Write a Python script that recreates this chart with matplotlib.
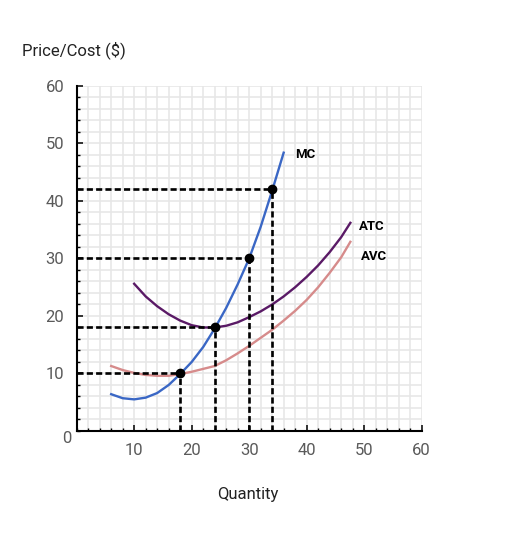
import matplotlib
matplotlib.use("Agg")
import matplotlib.pyplot as plt
from matplotlib.ticker import MultipleLocator

plt.rcParams['font.family'] = ['Roboto', 'DejaVu Sans']
plt.rcParams['lines.scale_dashes'] = False

# values
mc_q = [6, 8, 10, 12, 14, 16, 18, 20, 22, 24, 26, 28, 30, 32, 34, 36]
mc_cost = [6.4, 5.7, 5.5, 5.8, 6.6, 8.0, 9.9, 12.0, 14.6, 17.8, 21.4, 25.5, 30.0, 35.5, 41.8, 48.4]

atc_q = [10, 12, 14, 16, 18, 20, 22, 24, 26, 28, 30, 32, 34, 36, 38, 40, 42, 44, 46, 47.6]
atc_cost = [25.6, 23.4, 21.7, 20.3, 19.2, 18.4, 18.0, 18.0, 18.3, 18.9, 19.8, 20.8, 22.0, 23.4,
            25.0, 26.8, 28.8, 31.1, 33.7, 36.2]

avc_q = [6, 8, 10, 12, 14, 16, 18, 20, 22, 24, 26, 28, 30, 32, 34, 36, 38, 40, 42, 44, 46, 47.6]
avc_cost = [11.3, 10.6, 10.1, 9.75, 9.6, 9.6, 9.9, 10.3, 10.8, 11.3, 12.3, 13.5, 14.8, 16.2,
            17.6, 19.2, 20.9, 22.8, 25.0, 27.5, 30.2, 32.9]

# marked points (quantity, price)
point_q = [18, 24, 30, 34]
point_p = [10, 18, 30, 42]

curve_labels = ["MC", "ATC", "AVC"]
label_pos = [(38.0, 48.0), (49.1, 35.5), (49.4, 30.4)]

fig = plt.figure(figsize=(5.27, 5.37), dpi=100)
ax = fig.add_axes([0.1455, 0.1974, 0.6546, 0.6425])

ax.set_xlim(0, 60)
ax.set_ylim(0, 60)

ax.xaxis.set_major_locator(MultipleLocator(10))
ax.yaxis.set_major_locator(MultipleLocator(10))
ax.xaxis.set_minor_locator(MultipleLocator(2))
ax.yaxis.set_minor_locator(MultipleLocator(2))
ax.grid(which='both', color='#e6e6e6', linewidth=1.1, zorder=0)
ax.set_axisbelow(True)

for side in ['top', 'right']:
    ax.spines[side].set_visible(False)
for side in ['left', 'bottom']:
    ax.spines[side].set_linewidth(1.5)
    ax.spines[side].set_color('black')

ax.tick_params(which='major', direction='in', length=4.5, width=1.1, color='black',
               labelsize=12, labelcolor='#5a5a5a', pad=9)
ax.tick_params(which='minor', direction='in', length=2.3, width=1.0, color='black')

ax.set_xticks([10, 20, 30, 40, 50, 60])
ax.set_yticks([10, 20, 30, 40, 50, 60])
for lab in ax.get_xticklabels():
    lab.set_x(lab.get_position()[0])

ax.plot(mc_q, mc_cost, color='#3a67c5', linewidth=1.7, zorder=3, solid_joinstyle='round')
ax.plot(atc_q, atc_cost, color='#5a1a66', linewidth=1.7, zorder=3, solid_joinstyle='round')
ax.plot(avc_q, avc_cost, color='#d68b8b', linewidth=1.7, zorder=3, solid_joinstyle='round')

for q, p in zip(point_q, point_p):
    ax.plot([0, q], [p, p], color='black', linewidth=1.9, dashes=(4.4, 2.3), zorder=4)
    ax.plot([q, q], [0, p], color='black', linewidth=1.9, dashes=(4.4, 2.3), zorder=4)
ax.plot(point_q, point_p, 'o', color='black', markersize=6, zorder=5)

for name, (lx, ly) in zip(curve_labels, label_pos):
    ax.text(lx, ly, name, fontsize=9.5, fontweight='bold', color='black', va='center', ha='left')

fig.text(0.0417, 0.907, "Price/Cost ($)", fontsize=12, color='#222222', ha='left', va='center')
fig.text(0.4706, 0.080, "Quantity", fontsize=12, color='#222222', ha='center', va='center')
fig.text(0.1266, 0.184, "0", fontsize=12, color='#5a5a5a', ha='center', va='center')

fig.savefig("out.png", dpi=100)
